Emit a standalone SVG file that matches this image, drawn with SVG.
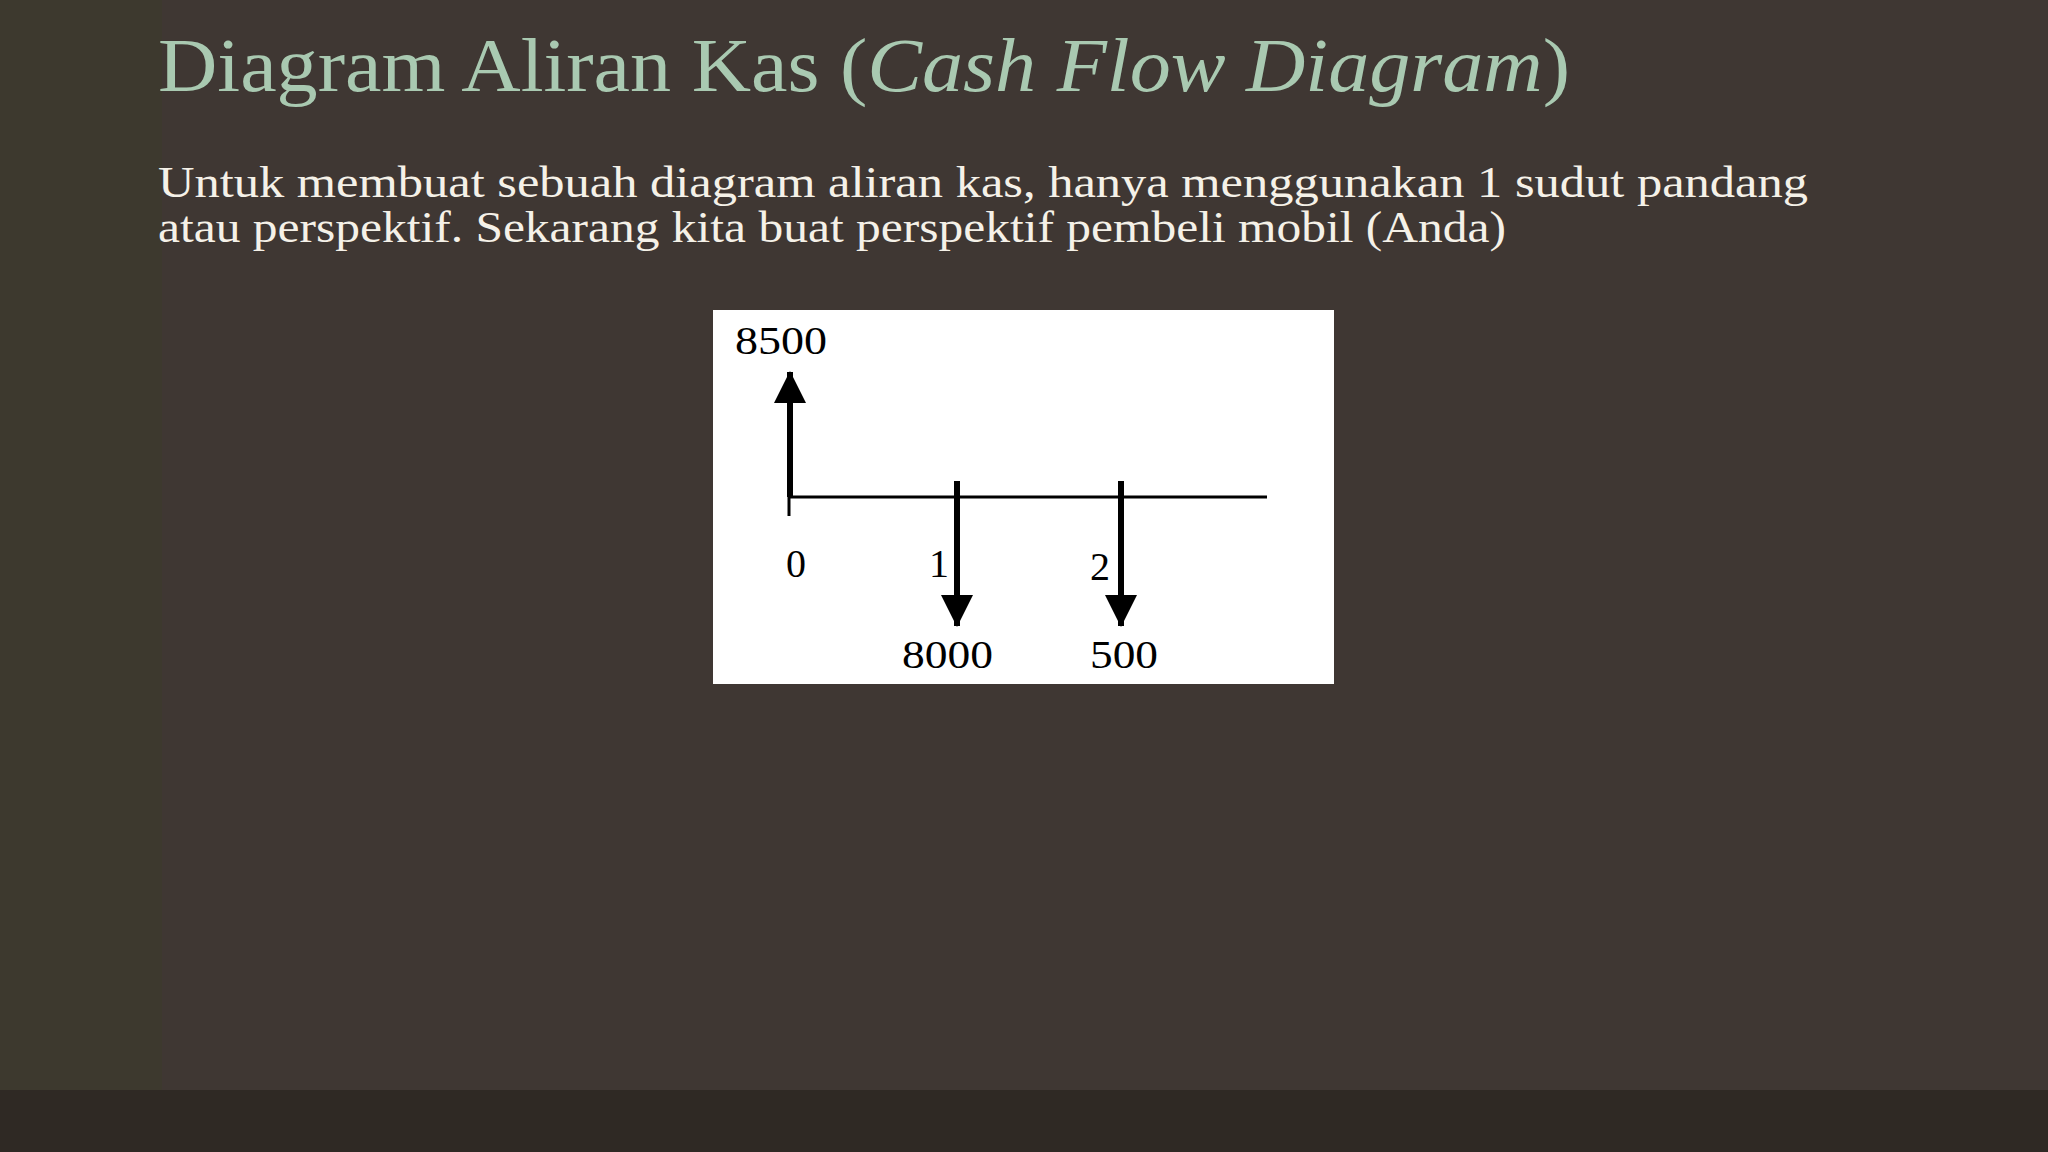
<svg xmlns="http://www.w3.org/2000/svg" width="2048" height="1152" viewBox="0 0 2048 1152">
<defs>
<style>
.title{font-family:"Liberation Serif","DejaVu Serif",serif;font-size:76px;fill:#a9c9b1}
.body{font-family:"Liberation Serif","DejaVu Serif",serif;font-size:44px;fill:#f5f1e8}
.num{font-family:"Liberation Serif","DejaVu Serif",serif;font-size:40px;fill:#000}
.axis{stroke:#000;stroke-width:3;fill:none}
.flow{stroke:#000;stroke-width:6;fill:none}
</style>
<marker id="head" viewBox="0 0 32 32" refX="31" refY="16" markerWidth="32" markerHeight="32" markerUnits="userSpaceOnUse" orient="auto">
<path d="M0,0 L32,16 L0,32 Z" fill="#000"/>
</marker>
</defs>
<rect x="0" y="0" width="2048" height="1152" fill="#3f3733"/>
<rect x="0" y="0" width="162" height="1090" fill="#3d392e"/>
<rect x="0" y="1090" width="2048" height="62" fill="#2f2924"/>
<g id="title">
<text class="title" x="158" y="91" textLength="1412" lengthAdjust="spacingAndGlyphs">Diagram Aliran Kas (<tspan font-style="italic">Cash Flow Diagram</tspan>)</text>
</g>
<g id="body">
<text class="body" x="158" y="197" textLength="1650" lengthAdjust="spacingAndGlyphs">Untuk membuat sebuah diagram aliran kas, hanya menggunakan 1 sudut pandang</text>
<text class="body" x="158" y="242" textLength="1348" lengthAdjust="spacingAndGlyphs">atau perspektif. Sekarang kita buat perspektif pembeli mobil (Anda)</text>
</g>
<g id="picture">
<rect x="713" y="310" width="621" height="374" fill="#fff"/>
</g>
<g id="connectors">
<line class="axis" x1="789" y1="497" x2="1267" y2="497"/>
<line class="axis" x1="789" y1="490" x2="789" y2="516"/>
<line class="flow" x1="790" y1="497" x2="790" y2="372" marker-end="url(#head)"/>
<line class="flow" x1="957" y1="481" x2="957" y2="626" marker-end="url(#head)"/>
<line class="flow" x1="1121" y1="481" x2="1121" y2="626" marker-end="url(#head)"/>
</g>
<g id="label-8500"><text class="num" x="735" y="354" textLength="92" lengthAdjust="spacingAndGlyphs">8500</text></g>
<g id="label-0"><text class="num" x="786" y="577">0</text></g>
<g id="label-1"><text class="num" x="929" y="577">1</text></g>
<g id="label-2"><text class="num" x="1090" y="580">2</text></g>
<g id="label-8000"><text class="num" x="902" y="668" textLength="91" lengthAdjust="spacingAndGlyphs">8000</text></g>
<g id="label-500"><text class="num" x="1090" y="668" textLength="68" lengthAdjust="spacingAndGlyphs">500</text></g>
</svg>
